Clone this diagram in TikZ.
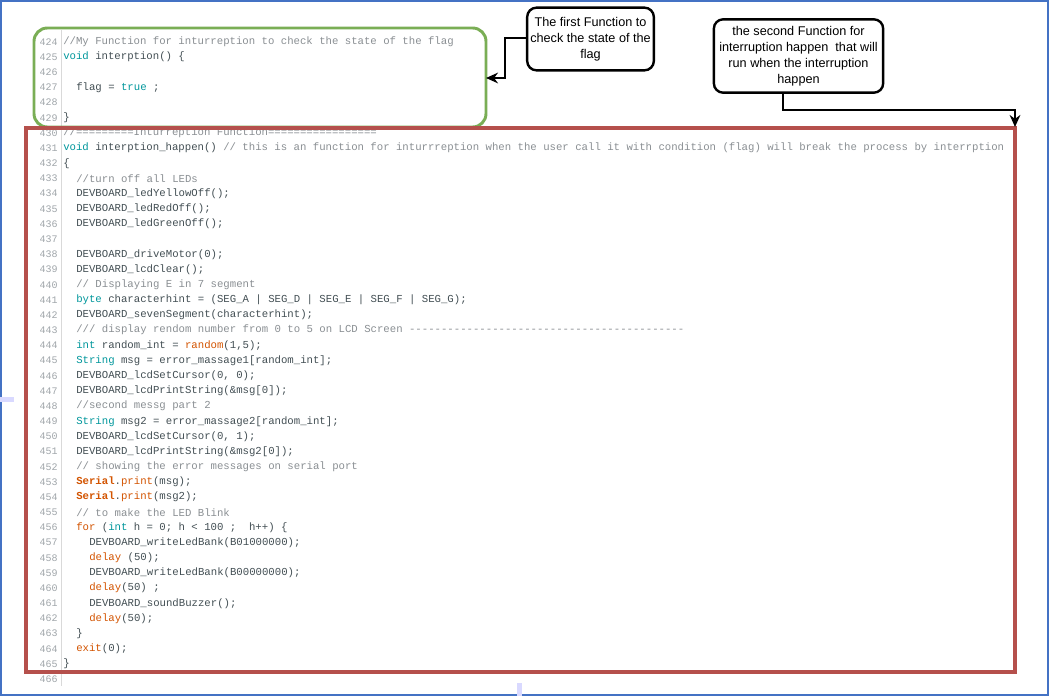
\documentclass[tikz,border=0pt]{standalone}
\usepackage{fontspec}
\setmainfont{Liberation Sans}
\setmonofont{Liberation Mono}
\usetikzlibrary{arrows.meta}
\definecolor{cmt}{HTML}{8A8F93}
\definecolor{kw}{HTML}{00979C}
\definecolor{fnc}{HTML}{D35400}
\definecolor{txt}{HTML}{434F54}
\definecolor{lnum}{HTML}{A0A6AA}
\definecolor{gbox}{HTML}{7AAE55}
\definecolor{rbox}{HTML}{B5504C}
\definecolor{bframe}{HTML}{4472C4}
\newcommand{\cmtx}[1]{\textcolor{cmt}{#1}}
\newcommand{\kwx}[1]{\textcolor{kw}{#1}}
\newcommand{\fnx}[1]{\textcolor{fnc}{#1}}
\tikzset{
  code/.style={anchor=west,inner sep=0pt,font=\ttfamily\fontsize{8}{9}\selectfont,text=txt},
  lno/.style={anchor=east,inner sep=0pt,font=\ttfamily\fontsize{7.5}{9}\selectfont,text=lnum},
  callout/.style={draw,line width=1.8pt,rounded corners=7pt,align=center,font=\fontsize{9.5}{12}\selectfont,inner sep=1pt},
  conn/.style={line width=1.5pt,-{Stealth[length=9pt,width=8pt]}}
}
\begin{document}
\begin{tikzpicture}[x=0.75pt,y=-0.75pt]
\useasboundingbox (0,0) rectangle (1049,696);
\fill[white] (0,0) rectangle (1049,696);
\draw[bframe,line width=1.2pt] (1,1) rectangle (1048,695);
\fill[blue!15] (0,397) rectangle (14,402);
\fill[blue!15] (517,683) rectangle (522,696);
\draw[gray!30] (61,30) -- (61,686);
% line numbers
\foreach \n in {424,...,466} {
  \node[lno] (n\n) at (58,{42+(\n-424)*15.17}) {\n};
}
\newcommand{\cl}[3]{\node[code] (c#1) at (#2,{42+(#1-424)*15.17}) {#3};}
\cl{424}{63}{\cmtx{//My Function for inturreption to check the state of the flag}}
\cl{425}{63}{\kwx{void} interption() \{}
\cl{427}{76}{flag = \kwx{true} ;}
\cl{429}{63}{\}}
\cl{430}{63}{\cmtx{//=========Inturreption Function=================}}
\cl{431}{63}{\kwx{void} interption\_happen() \cmtx{// this is an function for inturrreption when the user call it with condition (flag) will break the process by interrption}}
\cl{432}{63}{\{}
\cl{433}{76}{\cmtx{//turn off all LEDs}}
\cl{434}{76}{DEVBOARD\_ledYellowOff();}
\cl{435}{76}{DEVBOARD\_ledRedOff();}
\cl{436}{76}{DEVBOARD\_ledGreenOff();}
\cl{438}{76}{DEVBOARD\_driveMotor(0);}
\cl{439}{76}{DEVBOARD\_lcdClear();}
\cl{440}{76}{\cmtx{// Displaying E in 7 segment}}
\cl{441}{76}{\kwx{byte} characterhint = (SEG\_A | SEG\_D | SEG\_E | SEG\_F | SEG\_G);}
\cl{442}{76}{DEVBOARD\_sevenSegment(characterhint);}
\cl{443}{76}{\cmtx{/// display rendom number from 0 to 5 on LCD Screen -------------------------------------------}}
\cl{444}{76}{\kwx{int} random\_int = \fnx{random}(1,5);}
\cl{445}{76}{\kwx{String} msg = error\_massage1[random\_int];}
\cl{446}{76}{DEVBOARD\_lcdSetCursor(0, 0);}
\cl{447}{76}{DEVBOARD\_lcdPrintString(\&msg[0]);}
\cl{448}{76}{\cmtx{//second messg part 2}}
\cl{449}{76}{\kwx{String} msg2 = error\_massage2[random\_int];}
\cl{450}{76}{DEVBOARD\_lcdSetCursor(0, 1);}
\cl{451}{76}{DEVBOARD\_lcdPrintString(\&msg2[0]);}
\cl{452}{76}{\cmtx{// showing the error messages on serial port}}
\cl{453}{76}{\fnx{\bfseries Serial}.\fnx{print}(msg);}
\cl{454}{76}{\fnx{\bfseries Serial}.\fnx{print}(msg2);}
\cl{455}{76}{\cmtx{// to make the LED Blink}}
\cl{456}{76}{\fnx{for} (\kwx{int} h = 0; h < 100 ;\ \ h++) \{}
\cl{457}{89}{DEVBOARD\_writeLedBank(B01000000);}
\cl{458}{89}{\fnx{delay} (50);}
\cl{459}{89}{DEVBOARD\_writeLedBank(B00000000);}
\cl{460}{89}{\fnx{delay}(50) ;}
\cl{461}{89}{DEVBOARD\_soundBuzzer();}
\cl{462}{89}{\fnx{delay}(50);}
\cl{463}{76}{\}}
\cl{464}{76}{\fnx{exit}(0);}
\cl{465}{63}{\}}
% boxes
\draw[gbox,line width=2.2pt,rounded corners=10pt] (34,28) rectangle (486,127);
\coordinate (gR) at (486,78);
\draw[rbox,line width=2.4pt] (26,128) rectangle (1015,672);
\coordinate (rTR) at (1015,127);
% callouts
\node[callout,minimum width=95pt,minimum height=47pt] (k1) at (590.5,39) {The first Function to\\check the state of the\\flag};
\node[callout,minimum width=127pt,minimum height=55pt] (k2) at (798.5,56) {the second Function for\\interruption happen\ \ that will\\run when the interruption\\happen};
\draw[conn] (k1.west |- 0,38) -| (505,78) -- (gR);
\draw[conn] (783,93) |- (1015,110) -- (rTR);
\end{tikzpicture}
\end{document}
